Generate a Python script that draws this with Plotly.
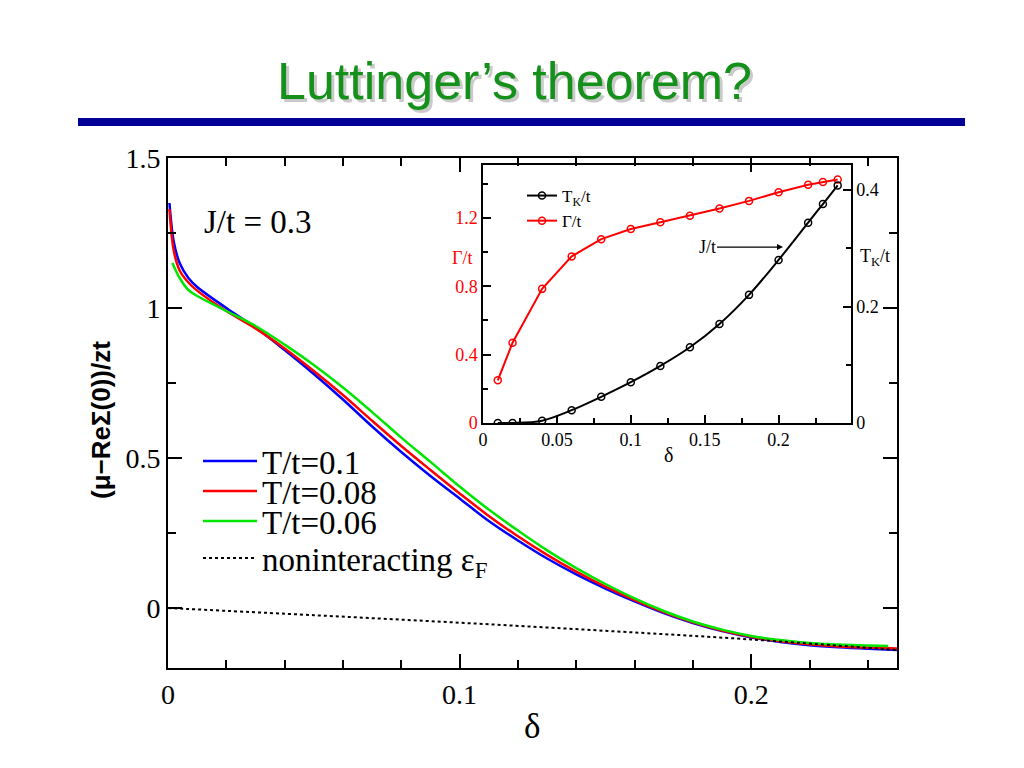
import plotly.graph_objects as go

W, H = 1024, 768
PAGE_OFFSET = 8  # the html body margin shifts the figure by this much


def fx(p):
    return (p - PAGE_OFFSET) / W


def fy(p):
    return 1 - (p - PAGE_OFFSET) / H


# main panel: (mu - Re Sigma(0)) / zt vs doping
delta_t010 = [0.0005, 0.002, 0.004, 0.007, 0.01, 0.02, 0.03, 0.04, 0.05, 0.06, 0.07, 0.08,
              0.09, 0.1, 0.11, 0.12, 0.13, 0.14, 0.15, 0.16, 0.17, 0.18, 0.19, 0.2,
              0.21, 0.22, 0.23, 0.24, 0.25]
mu_t010 = [1.35, 1.22, 1.15, 1.10, 1.07, 1.00, 0.935, 0.86, 0.78, 0.695, 0.605, 0.52,
           0.44, 0.365, 0.29, 0.225, 0.165, 0.112, 0.065, 0.022, -0.017, -0.05, -0.077, -0.098,
           -0.113, -0.124, -0.131, -0.136, -0.14]

delta_t008 = [0.0005, 0.002, 0.004, 0.007, 0.01, 0.02, 0.03, 0.04, 0.05, 0.06, 0.07, 0.08,
              0.09, 0.1, 0.11, 0.12, 0.13, 0.14, 0.15, 0.16, 0.17, 0.18, 0.19, 0.2,
              0.21, 0.22, 0.23, 0.24, 0.25]
mu_t008 = [1.33, 1.19, 1.125, 1.085, 1.058, 0.99, 0.932, 0.865, 0.79, 0.71, 0.624, 0.54,
           0.46, 0.382, 0.307, 0.239, 0.177, 0.121, 0.071, 0.026, -0.014, -0.048, -0.075, -0.096,
           -0.111, -0.121, -0.128, -0.132, -0.135]

delta_t006 = [0.0015, 0.004, 0.007, 0.01, 0.016, 0.02, 0.03, 0.04, 0.05, 0.06, 0.07, 0.08,
              0.09, 0.1, 0.11, 0.12, 0.13, 0.14, 0.15, 0.16, 0.17, 0.18, 0.19, 0.2,
              0.21, 0.22, 0.23, 0.24, 0.247]
mu_t006 = [1.15, 1.10, 1.06, 1.04, 1.01, 0.99, 0.94, 0.878, 0.81, 0.735, 0.653, 0.568,
           0.487, 0.405, 0.328, 0.258, 0.192, 0.133, 0.08, 0.032, -0.01, -0.045, -0.072, -0.093,
           -0.107, -0.117, -0.122, -0.125, -0.127]

delta_free = [0, 0.05, 0.1, 0.15, 0.2, 0.25]
eps_free = [0, -0.024, -0.049, -0.076, -0.105, -0.14]

# inset: Kondo scale and width vs doping
delta_in = [0.01, 0.02, 0.04, 0.06, 0.08, 0.10, 0.12, 0.14, 0.16, 0.18, 0.20, 0.22, 0.23, 0.24]
gamma_in = [0.25, 0.47, 0.785, 0.975, 1.076, 1.135, 1.175, 1.213, 1.255, 1.30, 1.35, 1.394, 1.41, 1.425]
tk_in = [0.0, 0.0, 0.004, 0.022, 0.045, 0.07, 0.098, 0.13, 0.17, 0.22, 0.28, 0.344, 0.376, 0.408]

serif = "Liberation Serif"

fig = go.Figure()
# each main curve gets its own legend box so the rows can sit as tight as in the original
fig.add_trace(go.Scatter(x=delta_t010, y=mu_t010, mode="lines", name="T/t=0.1",
                         legend="legend",
                         line=dict(color="#0000ff", width=2.5, shape="spline")))
fig.add_trace(go.Scatter(x=delta_t008, y=mu_t008, mode="lines", name="T/t=0.08",
                         legend="legend3",
                         line=dict(color="#ff0000", width=2.5, shape="spline")))
fig.add_trace(go.Scatter(x=delta_t006, y=mu_t006, mode="lines", name="T/t=0.06",
                         legend="legend4",
                         line=dict(color="#00e600", width=2.5, shape="spline")))
fig.add_trace(go.Scatter(x=delta_free, y=eps_free, mode="lines",
                         name="noninteracting ε<sub>F</sub>", legend="legend5",
                         line=dict(color="black", width=2, dash="dot", shape="spline")))

fig.add_trace(go.Scatter(x=delta_in, y=tk_in, mode="lines+markers", name="T<sub>K</sub>/t",
                         xaxis="x2", yaxis="y3", legend="legend2",
                         line=dict(color="black", width=2, shape="spline"),
                         marker=dict(symbol="circle-open", size=7, color="black",
                                     line=dict(width=1.5))))
fig.add_trace(go.Scatter(x=delta_in, y=gamma_in, mode="lines+markers", name="Γ/t",
                         xaxis="x2", yaxis="y2", legend="legend2",
                         line=dict(color="#ff0000", width=2),
                         marker=dict(symbol="circle-open", size=7, color="#ff0000",
                                     line=dict(width=1.5))))

axis_main = dict(showline=True, linecolor="black", linewidth=2, mirror="allticks",
                 ticks="inside", ticklen=14, tickwidth=2, tickcolor="black",
                 showgrid=False, zeroline=False, automargin=False,
                 tickfont=dict(family=serif, size=28, color="black"))
axis_in = dict(showline=True, linecolor="black", linewidth=1.5, mirror=True,
               ticks="inside", ticklen=8, tickwidth=1.5, tickcolor="black",
               showgrid=False, zeroline=False, automargin=False,
               tickfont=dict(family=serif, size=18, color="black"))

main_legend = dict(xanchor="left", yanchor="middle", bgcolor="rgba(0,0,0,0)",
                   font=dict(family=serif, size=33, color="black"), itemwidth=54)

fig.update_layout(
    width=W, height=H,
    margin=dict(l=0, r=0, t=0, b=0, autoexpand=False),
    paper_bgcolor="white", plot_bgcolor="rgba(0,0,0,0)",
    xaxis=dict(axis_main, domain=[fx(168), fx(897)], range=[0, 0.25], dtick=0.1,
               minor=dict(dtick=0.02, ticklen=8, tickwidth=2, ticks="inside")),
    yaxis=dict(axis_main, domain=[fy(668), fy(158)], range=[-0.2, 1.5], dtick=0.5,
               minor=dict(dtick=0.25, ticklen=8, tickwidth=2, ticks="inside")),
    xaxis2=dict(axis_in, domain=[fx(483), fx(851)], range=[0, 0.249], dtick=0.05,
                anchor="y2",
                minor=dict(dtick=0.025, ticklen=5, ticks="inside")),
    yaxis2=dict(axis_in, domain=[fy(423), fy(165)], range=[0, 1.51], dtick=0.4,
                anchor="x2", mirror=False,
                tickfont=dict(family=serif, size=18, color="#ff0000"),
                minor=dict(dtick=0.2, ticklen=5, ticks="inside")),
    yaxis3=dict(axis_in, overlaying="y2", side="right", anchor="x2", range=[0, 0.443],
                dtick=0.2, mirror=False,
                minor=dict(dtick=0.1, ticklen=5, ticks="inside")),
    legend=dict(main_legend, x=fx(198), y=fy(461)),
    legend3=dict(main_legend, x=fx(198), y=fy(491)),
    legend4=dict(main_legend, x=fx(198), y=fy(521)),
    legend5=dict(main_legend, x=fx(198), y=fy(558)),
    legend2=dict(x=fx(522), y=fy(178), xanchor="left", yanchor="top",
                 bgcolor="rgba(0,0,0,0)", font=dict(family=serif, size=17, color="black"),
                 itemwidth=30, tracegroupgap=0),
    showlegend=True,
)

# title with its shadow and the blue rule under it
title_font = "Liberation Sans Narrow, Arial Narrow, Liberation Sans"
for dx, col in [(3, "rgba(150,150,150,0.5)"), (0, "#15901a")]:
    fig.add_annotation(x=fx(514 + dx), y=fy(81 + dx), xref="paper", yref="paper",
                       xanchor="center", yanchor="middle", showarrow=False,
                       text="Luttinger’s theorem?",
                       font=dict(family=title_font, size=52, color=col))
fig.add_shape(type="rect", xref="paper", yref="paper",
              x0=fx(78), x1=fx(965), y0=fy(126), y1=fy(118),
              fillcolor="#000099", line=dict(width=0))

# main panel labels
fig.add_annotation(x=fx(101), y=fy(420), xref="paper", yref="paper", showarrow=False,
                   xanchor="center", yanchor="middle",
                   text="(μ−ReΣ(0))/zt", textangle=-90,
                   font=dict(family="Liberation Sans", size=26, color="black", weight="bold"))
fig.add_annotation(x=fx(258), y=fy(222), xref="paper", yref="paper", showarrow=False,
                   xanchor="center", yanchor="middle",
                   text="J/t = 0.3", font=dict(family=serif, size=33, color="black"))
fig.add_annotation(x=fx(532), y=fy(726), xref="paper", yref="paper", showarrow=False,
                   xanchor="center", yanchor="middle",
                   text="δ", font=dict(family=serif, size=35, color="black"))

# inset labels
fig.add_annotation(x=fx(462), y=fy(258), xref="paper", yref="paper", showarrow=False,
                   xanchor="center", yanchor="middle",
                   text="Γ/t", font=dict(family=serif, size=18, color="#ff0000"))
fig.add_annotation(x=fx(875), y=fy(257), xref="paper", yref="paper", showarrow=False,
                   xanchor="center", yanchor="middle",
                   text="T<sub>K</sub>/t", font=dict(family=serif, size=18, color="black"))
fig.add_annotation(x=fx(668), y=fy(455), xref="paper", yref="paper", showarrow=False,
                   xanchor="center", yanchor="middle",
                   text="δ", font=dict(family=serif, size=20, color="black"))
fig.add_annotation(x=0.203, y=0.302, xref="x2", yref="y3", text="J/t",
                   showarrow=True, arrowhead=2, arrowsize=1, arrowwidth=1.2,
                   arrowcolor="black", ax=-76, ay=0,
                   font=dict(family=serif, size=18, color="black"))

fig.write_html("out.html")
